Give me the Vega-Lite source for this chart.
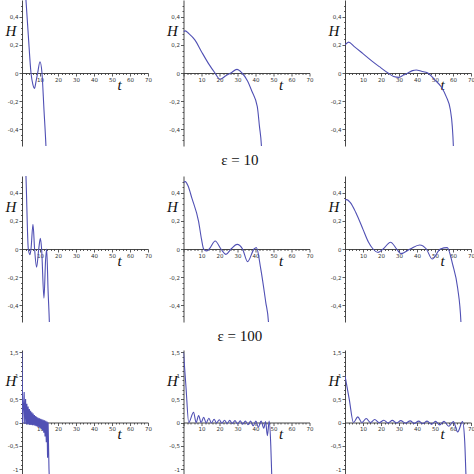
{
"$schema": "https://vega.github.io/schema/vega-lite/v6.json",
"padding": {"left": 5, "top": 0, "right": 0, "bottom": 0},
"background": "white",
"spacing": 7,
"config": {
 "view": {"stroke": null},
 "line": {"color": "#5050b4", "strokeWidth": 1.1},
 "axis": {"domainColor": "#333", "domainWidth": 0.9, "tickColor": "#333", "tickWidth": 0.8, "labelFont": "DejaVu Sans", "labelFontSize": 5.5, "labelColor": "#333", "labelPadding": 1, "labelFlush": false, "labelOverlap": false, "labelBound": false, "grid": false, "titleFont": "Liberation Serif", "titleFontStyle": "italic", "titleFontWeight": "normal", "titleFontSize": 15, "titleAngle": 0, "titleAlign": "center", "titleBaseline": "middle", "titleColor": "#111"},
 "axisX": {"titleX": 97, "titleY": 11},
 "axisY": {"titleX": -11.5, "titleY": 30},
 "title": {"font": "Liberation Serif", "fontSize": 15, "fontWeight": "normal", "anchor": "middle", "color": "#111"}
},
"datasets": {
 "r1c1": [{"t":0.8,"H":0.8},{"t":2.2,"H":0.52},{"t":3.5,"H":0.27},{"t":5,"H":0},{"t":6,"H":-0.08},{"t":6.9,"H":-0.11},{"t":7.8,"H":-0.06},{"t":8.7,"H":0},{"t":10,"H":0.08},{"t":11.1,"H":0},{"t":12.2,"H":-0.26},{"t":13.3,"H":-0.52},{"t":13.8,"H":-0.68}],
 "r1c2": [{"t":0,"H":0.295},{"t":1,"H":0.3},{"t":3,"H":0.28},{"t":6.3,"H":0.236},{"t":10,"H":0.152},{"t":14,"H":0.065},{"t":17.5,"H":0},{"t":20.3,"H":-0.045},{"t":23.5,"H":-0.02},{"t":26.3,"H":0},{"t":29.7,"H":0.026},{"t":32.5,"H":0},{"t":35.5,"H":-0.055},{"t":38,"H":-0.13},{"t":41,"H":-0.24},{"t":42.2,"H":-0.38},{"t":43.3,"H":-0.52},{"t":43.8,"H":-0.66}],
 "r1c3": [{"t":0,"H":0.2},{"t":2,"H":0.22},{"t":5,"H":0.19},{"t":9.8,"H":0.14},{"t":15,"H":0.085},{"t":19.1,"H":0.045},{"t":23.9,"H":0},{"t":27,"H":-0.025},{"t":30,"H":-0.031},{"t":32.5,"H":-0.015},{"t":35,"H":0},{"t":37.5,"H":0.017},{"t":39.6,"H":0.021},{"t":42.5,"H":0.012},{"t":46,"H":0},{"t":50,"H":-0.05},{"t":53.5,"H":-0.1},{"t":56.3,"H":-0.17},{"t":58.5,"H":-0.26},{"t":59.6,"H":-0.38},{"t":60.2,"H":-0.52},{"t":60.5,"H":-0.65}],
 "r2c1": [{"t":1.5,"H":0.75},{"t":2.2,"H":0.52},{"t":3.5,"H":0},{"t":4.4,"H":-0.04},{"t":5,"H":0},{"t":6.1,"H":0.176},{"t":7,"H":0},{"t":8.1,"H":-0.13},{"t":9.3,"H":0},{"t":10.2,"H":0.076},{"t":10.9,"H":0},{"t":12.2,"H":-0.35},{"t":13.1,"H":-0.08},{"t":13.7,"H":0},{"t":14.5,"H":-0.3},{"t":15.2,"H":-0.52},{"t":15.6,"H":-0.7}],
 "r2c2": [{"t":0,"H":0.476},{"t":1,"H":0.48},{"t":2.5,"H":0.45},{"t":4.7,"H":0.36},{"t":8.4,"H":0.195},{"t":10,"H":0.07},{"t":11.2,"H":0},{"t":12.7,"H":-0.014},{"t":14.3,"H":0},{"t":17.6,"H":0.057},{"t":20.8,"H":0},{"t":23.6,"H":-0.038},{"t":26.4,"H":0},{"t":29.8,"H":0.033},{"t":32.8,"H":0},{"t":35.6,"H":-0.09},{"t":39.2,"H":0},{"t":40.5,"H":0.01},{"t":42.9,"H":-0.14},{"t":45.7,"H":-0.38},{"t":47.2,"H":-0.52},{"t":47.7,"H":-0.66}],
 "r2c3": [{"t":0,"H":0.35},{"t":1,"H":0.352},{"t":3,"H":0.33},{"t":6,"H":0.26},{"t":10,"H":0.14},{"t":13,"H":0.05},{"t":15.6,"H":0},{"t":18.4,"H":-0.024},{"t":21.2,"H":0},{"t":25.3,"H":0.048},{"t":28.7,"H":0},{"t":31,"H":-0.033},{"t":36.2,"H":0},{"t":41.5,"H":0.029},{"t":45.2,"H":0},{"t":48.4,"H":-0.071},{"t":53,"H":0},{"t":56.8,"H":0.01},{"t":59.8,"H":-0.11},{"t":62.6,"H":-0.28},{"t":64.4,"H":-0.52},{"t":64.8,"H":-0.66}],
 "r3c1": [{"t":0,"H":1.5},{"t":0.4,"H":-0.02},{"t":1.2,"H":0.65},{"t":1.5,"H":-0.03},{"t":2.0,"H":0.5},{"t":2.3,"H":-0.03},{"t":2.7,"H":0.4},{"t":3.0,"H":-0.04},{"t":3.4,"H":0.34},{"t":3.7,"H":-0.04},{"t":4.1,"H":0.29},{"t":4.4,"H":-0.05},{"t":4.8,"H":0.25},{"t":5.1,"H":-0.05},{"t":5.5,"H":0.22},{"t":5.8,"H":-0.06},{"t":6.2,"H":0.19},{"t":6.5,"H":-0.06},{"t":6.9,"H":0.16},{"t":7.2,"H":-0.07},{"t":7.6,"H":0.14},{"t":7.9,"H":-0.08},{"t":8.3,"H":0.12},{"t":8.6,"H":-0.09},{"t":9.0,"H":0.1},{"t":9.3,"H":-0.1},{"t":9.7,"H":0.09},{"t":10.0,"H":-0.12},{"t":10.4,"H":0.08},{"t":10.7,"H":-0.14},{"t":11.1,"H":0.07},{"t":11.4,"H":-0.17},{"t":11.8,"H":0.06},{"t":12.1,"H":-0.22},{"t":12.5,"H":0.05},{"t":12.8,"H":-0.3},{"t":13.2,"H":0.04},{"t":13.5,"H":-0.42},{"t":13.9,"H":0.02},{"t":14.2,"H":-0.75},{"t":14.5,"H":0.0},{"t":15.0,"H":-1.0},{"t":15.3,"H":-1.3}],
 "r3c2": [{"t":0,"H":1.5},{"t":1.4,"H":0.75},{"t":2.9,"H":0},{"t":5.6,"H":0.22},{"t":7.0,"H":0},{"t":8.4,"H":0.15},{"t":9.8,"H":0},{"t":11.2,"H":0.11},{"t":12.6,"H":-0.005},{"t":14.1,"H":0.09},{"t":15.5,"H":-0.01},{"t":17.0,"H":0.07},{"t":18.4,"H":-0.01},{"t":19.9,"H":0.06},{"t":21.3,"H":-0.015},{"t":22.8,"H":0.05},{"t":24.2,"H":-0.02},{"t":25.7,"H":0.045},{"t":27.1,"H":-0.02},{"t":28.6,"H":0.04},{"t":30.0,"H":-0.03},{"t":31.5,"H":0.035},{"t":32.9,"H":-0.035},{"t":34.4,"H":0.03},{"t":35.8,"H":-0.045},{"t":37.3,"H":0.03},{"t":38.7,"H":-0.07},{"t":40.2,"H":0.03},{"t":41.6,"H":-0.1},{"t":43.1,"H":0.03},{"t":44.6,"H":-0.12},{"t":45.6,"H":0.02},{"t":46.6,"H":-0.28},{"t":47.6,"H":0.03},{"t":48.5,"H":-0.5},{"t":49.0,"H":-1.1},{"t":49.3,"H":-1.4}],
 "r3c3": [{"t":0,"H":1.0},{"t":2.35,"H":0.5},{"t":4.7,"H":0},{"t":7.1,"H":0.12},{"t":9.4,"H":0},{"t":11.8,"H":0.085},{"t":14.1,"H":0},{"t":16.5,"H":0.065},{"t":19.0,"H":-0.005},{"t":21.6,"H":0.05},{"t":24.0,"H":-0.01},{"t":26.3,"H":0.045},{"t":28.6,"H":-0.01},{"t":31.0,"H":0.04},{"t":33.6,"H":-0.015},{"t":36.2,"H":0.035},{"t":38.5,"H":-0.02},{"t":40.9,"H":0.03},{"t":43.2,"H":-0.025},{"t":45.6,"H":0.03},{"t":48.0,"H":-0.035},{"t":50.3,"H":0.025},{"t":52.6,"H":-0.05},{"t":55.0,"H":0.025},{"t":57.6,"H":-0.08},{"t":60.2,"H":0.02},{"t":62.6,"H":-0.2},{"t":65.3,"H":0.02},{"t":66.5,"H":-0.4},{"t":67.2,"H":-1.12},{"t":67.5,"H":-1.4}]
},
"vconcat": [
 {"spacing": 14.5, "hconcat": [
  {"width": 126, "height": 146, "data": {"name": "r1c1"}, "mark": {"type": "line", "interpolate": "monotone", "clip": true},
   "encoding": {
    "x": {"field": "t", "type": "quantitative", "scale": {"domain": [0,70], "nice": false, "zero": false}, "axis": {"offset": -73, "title": "t", "values": [0,2,4,6,8,10,12,14,16,18,20,22,24,26,28,30,32,34,36,38,40,42,44,46,48,50,52,54,56,58,60,62,64,66,68,70], "labelExpr": "datum.value % 10 === 0 && datum.value > 0 ? datum.label : ''", "tickSize": {"condition": {"test": "datum.value % 10 === 0", "value": 3}, "value": 1.5}}},
    "y": {"field": "H", "type": "quantitative", "scale": {"domain": [-0.52,0.52], "nice": false, "zero": false}, "axis": {"title": "H", "values": [-0.48,-0.44,-0.4,-0.36,-0.32,-0.28,-0.24,-0.2,-0.16,-0.12,-0.08,-0.04,0,0.04,0.08,0.12,0.16,0.2,0.24,0.28,0.32,0.36,0.4,0.44,0.48], "labelExpr": "abs(datum.value*5 - round(datum.value*5)) < 0.001 ? replace(replace(format(datum.value, '.1~f'), '.', ','), '−', '-') : ''", "tickSize": {"condition": {"test": "abs(datum.value*5 - round(datum.value*5)) < 0.001", "value": 3}, "value": 1.5}}}
   }},
  {"width": 126, "height": 146, "data": {"name": "r1c2"}, "mark": {"type": "line", "interpolate": "monotone", "clip": true},
   "encoding": {
    "x": {"field": "t", "type": "quantitative", "scale": {"domain": [0,70], "nice": false, "zero": false}, "axis": {"offset": -73, "title": "t", "values": [0,2,4,6,8,10,12,14,16,18,20,22,24,26,28,30,32,34,36,38,40,42,44,46,48,50,52,54,56,58,60,62,64,66,68,70], "labelExpr": "datum.value % 10 === 0 && datum.value > 0 ? datum.label : ''", "tickSize": {"condition": {"test": "datum.value % 10 === 0", "value": 3}, "value": 1.5}}},
    "y": {"field": "H", "type": "quantitative", "scale": {"domain": [-0.52,0.52], "nice": false, "zero": false}, "axis": {"title": "H", "values": [-0.48,-0.44,-0.4,-0.36,-0.32,-0.28,-0.24,-0.2,-0.16,-0.12,-0.08,-0.04,0,0.04,0.08,0.12,0.16,0.2,0.24,0.28,0.32,0.36,0.4,0.44,0.48], "labelExpr": "abs(datum.value*5 - round(datum.value*5)) < 0.001 ? replace(replace(format(datum.value, '.1~f'), '.', ','), '−', '-') : ''", "tickSize": {"condition": {"test": "abs(datum.value*5 - round(datum.value*5)) < 0.001", "value": 3}, "value": 1.5}}}
   }},
  {"width": 126, "height": 146, "data": {"name": "r1c3"}, "mark": {"type": "line", "interpolate": "monotone", "clip": true},
   "encoding": {
    "x": {"field": "t", "type": "quantitative", "scale": {"domain": [0,70], "nice": false, "zero": false}, "axis": {"offset": -73, "title": "t", "values": [0,2,4,6,8,10,12,14,16,18,20,22,24,26,28,30,32,34,36,38,40,42,44,46,48,50,52,54,56,58,60,62,64,66,68,70], "labelExpr": "datum.value % 10 === 0 && datum.value > 0 ? datum.label : ''", "tickSize": {"condition": {"test": "datum.value % 10 === 0", "value": 3}, "value": 1.5}}},
    "y": {"field": "H", "type": "quantitative", "scale": {"domain": [-0.52,0.52], "nice": false, "zero": false}, "axis": {"title": "H", "values": [-0.48,-0.44,-0.4,-0.36,-0.32,-0.28,-0.24,-0.2,-0.16,-0.12,-0.08,-0.04,0,0.04,0.08,0.12,0.16,0.2,0.24,0.28,0.32,0.36,0.4,0.44,0.48], "labelExpr": "abs(datum.value*5 - round(datum.value*5)) < 0.001 ? replace(replace(format(datum.value, '.1~f'), '.', ','), '−', '-') : ''", "tickSize": {"condition": {"test": "abs(datum.value*5 - round(datum.value*5)) < 0.001", "value": 3}, "value": 1.5}}}
   }}
 ]},
 {"spacing": 14.5, "title": {"text": "ε = 10", "offset": 8}, "hconcat": [
  {"width": 126, "height": 146, "data": {"name": "r2c1"}, "mark": {"type": "line", "interpolate": "monotone", "clip": true},
   "encoding": {
    "x": {"field": "t", "type": "quantitative", "scale": {"domain": [0,70], "nice": false, "zero": false}, "axis": {"offset": -73, "title": "t", "values": [0,2,4,6,8,10,12,14,16,18,20,22,24,26,28,30,32,34,36,38,40,42,44,46,48,50,52,54,56,58,60,62,64,66,68,70], "labelExpr": "datum.value % 10 === 0 && datum.value > 0 ? datum.label : ''", "tickSize": {"condition": {"test": "datum.value % 10 === 0", "value": 3}, "value": 1.5}}},
    "y": {"field": "H", "type": "quantitative", "scale": {"domain": [-0.52,0.52], "nice": false, "zero": false}, "axis": {"title": "H", "values": [-0.48,-0.44,-0.4,-0.36,-0.32,-0.28,-0.24,-0.2,-0.16,-0.12,-0.08,-0.04,0,0.04,0.08,0.12,0.16,0.2,0.24,0.28,0.32,0.36,0.4,0.44,0.48], "labelExpr": "abs(datum.value*5 - round(datum.value*5)) < 0.001 ? replace(replace(format(datum.value, '.1~f'), '.', ','), '−', '-') : ''", "tickSize": {"condition": {"test": "abs(datum.value*5 - round(datum.value*5)) < 0.001", "value": 3}, "value": 1.5}}}
   }},
  {"width": 126, "height": 146, "data": {"name": "r2c2"}, "mark": {"type": "line", "interpolate": "monotone", "clip": true},
   "encoding": {
    "x": {"field": "t", "type": "quantitative", "scale": {"domain": [0,70], "nice": false, "zero": false}, "axis": {"offset": -73, "title": "t", "values": [0,2,4,6,8,10,12,14,16,18,20,22,24,26,28,30,32,34,36,38,40,42,44,46,48,50,52,54,56,58,60,62,64,66,68,70], "labelExpr": "datum.value % 10 === 0 && datum.value > 0 ? datum.label : ''", "tickSize": {"condition": {"test": "datum.value % 10 === 0", "value": 3}, "value": 1.5}}},
    "y": {"field": "H", "type": "quantitative", "scale": {"domain": [-0.52,0.52], "nice": false, "zero": false}, "axis": {"title": "H", "values": [-0.48,-0.44,-0.4,-0.36,-0.32,-0.28,-0.24,-0.2,-0.16,-0.12,-0.08,-0.04,0,0.04,0.08,0.12,0.16,0.2,0.24,0.28,0.32,0.36,0.4,0.44,0.48], "labelExpr": "abs(datum.value*5 - round(datum.value*5)) < 0.001 ? replace(replace(format(datum.value, '.1~f'), '.', ','), '−', '-') : ''", "tickSize": {"condition": {"test": "abs(datum.value*5 - round(datum.value*5)) < 0.001", "value": 3}, "value": 1.5}}}
   }},
  {"width": 126, "height": 146, "data": {"name": "r2c3"}, "mark": {"type": "line", "interpolate": "monotone", "clip": true},
   "encoding": {
    "x": {"field": "t", "type": "quantitative", "scale": {"domain": [0,70], "nice": false, "zero": false}, "axis": {"offset": -73, "title": "t", "values": [0,2,4,6,8,10,12,14,16,18,20,22,24,26,28,30,32,34,36,38,40,42,44,46,48,50,52,54,56,58,60,62,64,66,68,70], "labelExpr": "datum.value % 10 === 0 && datum.value > 0 ? datum.label : ''", "tickSize": {"condition": {"test": "datum.value % 10 === 0", "value": 3}, "value": 1.5}}},
    "y": {"field": "H", "type": "quantitative", "scale": {"domain": [-0.52,0.52], "nice": false, "zero": false}, "axis": {"title": "H", "values": [-0.48,-0.44,-0.4,-0.36,-0.32,-0.28,-0.24,-0.2,-0.16,-0.12,-0.08,-0.04,0,0.04,0.08,0.12,0.16,0.2,0.24,0.28,0.32,0.36,0.4,0.44,0.48], "labelExpr": "abs(datum.value*5 - round(datum.value*5)) < 0.001 ? replace(replace(format(datum.value, '.1~f'), '.', ','), '−', '-') : ''", "tickSize": {"condition": {"test": "abs(datum.value*5 - round(datum.value*5)) < 0.001", "value": 3}, "value": 1.5}}}
   }}
 ]},
 {"spacing": 14.5, "title": {"text": "ε = 100", "offset": 6}, "hconcat": [
  {"width": 126, "height": 124, "data": {"name": "r3c1"}, "mark": {"type": "line", "interpolate": "linear", "clip": true},
   "encoding": {
    "x": {"field": "t", "type": "quantitative", "scale": {"domain": [0,70], "nice": false, "zero": false}, "axis": {"offset": -51.5, "title": "t", "values": [0,2,4,6,8,10,12,14,16,18,20,22,24,26,28,30,32,34,36,38,40,42,44,46,48,50,52,54,56,58,60,62,64,66,68,70], "labelExpr": "datum.value % 10 === 0 && datum.value > 0 ? datum.label : ''", "tickSize": {"condition": {"test": "datum.value % 10 === 0", "value": 3}, "value": 1.5}}},
    "y": {"field": "H", "type": "quantitative", "scale": {"domain": [-1.1,1.55], "nice": false, "zero": false}, "axis": {"title": "H", "values": [-1.1,-1,-0.9,-0.8,-0.7,-0.6,-0.5,-0.4,-0.3,-0.2,-0.1,0,0.1,0.2,0.3,0.4,0.5,0.6,0.7,0.8,0.9,1,1.1,1.2,1.3,1.4,1.5], "labelExpr": "abs(datum.value*2 - round(datum.value*2)) < 0.001 ? replace(replace(format(datum.value, '.1~f'), '.', ','), '−', '-') : ''", "tickSize": {"condition": {"test": "abs(datum.value*2 - round(datum.value*2)) < 0.001", "value": 3}, "value": 1.5}}}
   }},
  {"width": 126, "height": 124, "data": {"name": "r3c2"}, "mark": {"type": "line", "interpolate": "monotone", "clip": true},
   "encoding": {
    "x": {"field": "t", "type": "quantitative", "scale": {"domain": [0,70], "nice": false, "zero": false}, "axis": {"offset": -51.5, "title": "t", "values": [0,2,4,6,8,10,12,14,16,18,20,22,24,26,28,30,32,34,36,38,40,42,44,46,48,50,52,54,56,58,60,62,64,66,68,70], "labelExpr": "datum.value % 10 === 0 && datum.value > 0 ? datum.label : ''", "tickSize": {"condition": {"test": "datum.value % 10 === 0", "value": 3}, "value": 1.5}}},
    "y": {"field": "H", "type": "quantitative", "scale": {"domain": [-1.1,1.55], "nice": false, "zero": false}, "axis": {"title": "H", "values": [-1.1,-1,-0.9,-0.8,-0.7,-0.6,-0.5,-0.4,-0.3,-0.2,-0.1,0,0.1,0.2,0.3,0.4,0.5,0.6,0.7,0.8,0.9,1,1.1,1.2,1.3,1.4,1.5], "labelExpr": "abs(datum.value*2 - round(datum.value*2)) < 0.001 ? replace(replace(format(datum.value, '.1~f'), '.', ','), '−', '-') : ''", "tickSize": {"condition": {"test": "abs(datum.value*2 - round(datum.value*2)) < 0.001", "value": 3}, "value": 1.5}}}
   }},
  {"width": 126, "height": 124, "data": {"name": "r3c3"}, "mark": {"type": "line", "interpolate": "monotone", "clip": true},
   "encoding": {
    "x": {"field": "t", "type": "quantitative", "scale": {"domain": [0,70], "nice": false, "zero": false}, "axis": {"offset": -51.5, "title": "t", "values": [0,2,4,6,8,10,12,14,16,18,20,22,24,26,28,30,32,34,36,38,40,42,44,46,48,50,52,54,56,58,60,62,64,66,68,70], "labelExpr": "datum.value % 10 === 0 && datum.value > 0 ? datum.label : ''", "tickSize": {"condition": {"test": "datum.value % 10 === 0", "value": 3}, "value": 1.5}}},
    "y": {"field": "H", "type": "quantitative", "scale": {"domain": [-1.1,1.55], "nice": false, "zero": false}, "axis": {"title": "H", "values": [-1.1,-1,-0.9,-0.8,-0.7,-0.6,-0.5,-0.4,-0.3,-0.2,-0.1,0,0.1,0.2,0.3,0.4,0.5,0.6,0.7,0.8,0.9,1,1.1,1.2,1.3,1.4,1.5], "labelExpr": "abs(datum.value*2 - round(datum.value*2)) < 0.001 ? replace(replace(format(datum.value, '.1~f'), '.', ','), '−', '-') : ''", "tickSize": {"condition": {"test": "abs(datum.value*2 - round(datum.value*2)) < 0.001", "value": 3}, "value": 1.5}}}
   }}
 ]}
]
}
